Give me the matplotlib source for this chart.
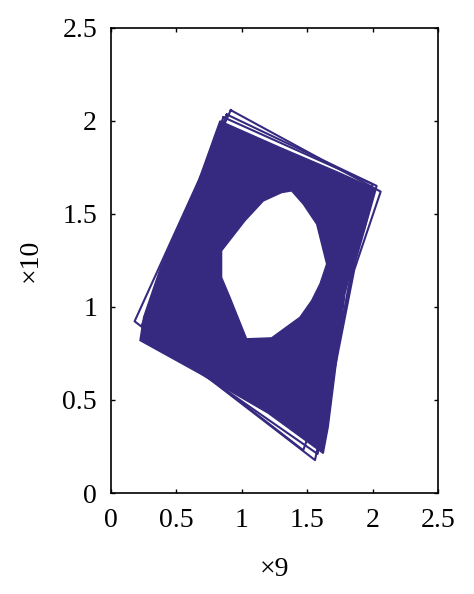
import matplotlib
matplotlib.use('Agg')
import matplotlib.pyplot as plt
from matplotlib.path import Path
from matplotlib.patches import PathPatch

# outer boundary of the dense trajectory band (x9, x10), clockwise
band_x = [0.833, 1.30, 1.75, 2.018, 1.942, 1.840, 1.789, 1.725, 1.661, 1.623, 1.20, 0.68, 0.222, 0.25, 0.38, 0.66]
band_y = [2.000, 1.855, 1.72, 1.635, 1.427, 1.213, 1.070, 0.713, 0.355, 0.213, 0.43, 0.642, 0.820, 0.945, 1.213, 1.66]

# empty hole in the middle, counter-clockwise
hole_x = [1.381, 1.305, 1.165, 1.024, 0.846, 0.846, 0.910, 1.037, 1.228, 1.445, 1.534, 1.598, 1.649, 1.573, 1.470]
hole_y = [1.624, 1.615, 1.570, 1.463, 1.302, 1.159, 1.052, 0.829, 0.834, 0.945, 1.034, 1.124, 1.231, 1.445, 1.553]

# a few transient loops around the band
loop1_x = [0.916, 2.062, 1.86, 1.72, 1.56, 0.181]
loop1_y = [2.058, 1.620, 1.20, 0.70, 0.177, 0.923]
loop2_x = [0.885, 2.031, 1.85, 1.71, 1.47, 0.235]
loop2_y = [2.035, 1.651, 1.20, 0.70, 0.23, 0.90]
loop3_x = [0.86, 2.00, 1.84, 1.71, 1.58, 0.25]
loop3_y = [2.02, 1.66, 1.20, 0.70, 0.21, 0.86]

col = '#352a80'

plt.rcParams['font.family'] = ['Liberation Serif', 'DejaVu Serif']

fig = plt.figure(figsize=(4.74, 5.94), dpi=100)
ax = fig.add_axes([0.234, 0.170, 0.690, 0.783])

verts = list(zip(band_x, band_y)) + [(band_x[0], band_y[0])]
codes = [Path.MOVETO] + [Path.LINETO] * (len(band_x) - 1) + [Path.CLOSEPOLY]
hv = list(zip(hole_x, hole_y))
verts += hv + [hv[0]]
codes += [Path.MOVETO] + [Path.LINETO] * (len(hv) - 1) + [Path.CLOSEPOLY]
ax.add_patch(PathPatch(Path(verts, codes), facecolor=col, edgecolor=col, lw=1.0))

for lx, ly in [(loop1_x, loop1_y), (loop2_x, loop2_y), (loop3_x, loop3_y)]:
    ax.plot(lx + lx[:1], ly + ly[:1], color=col, lw=1.5)

ax.set_xlim(0, 2.5)
ax.set_ylim(0, 2.5)
ticks = [0, 0.5, 1, 1.5, 2, 2.5]
labels = ['0', '0.5', '1', '1.5', '2', '2.5']
ax.set_xticks(ticks)
ax.set_xticklabels(labels)
ax.set_yticks(ticks)
ax.set_yticklabels(labels)
ax.tick_params(direction='in', length=3, width=1, top=True, right=True,
               labelsize=20)
ax.tick_params(axis='x', pad=11)
ax.tick_params(axis='y', pad=10)
for s in ax.spines.values():
    s.set_linewidth(1.2)
ax.set_xlabel('×9', fontsize=20, labelpad=17)
ax.set_ylabel('×10', fontsize=20, labelpad=14)

fig.savefig('out.png', dpi=100)
